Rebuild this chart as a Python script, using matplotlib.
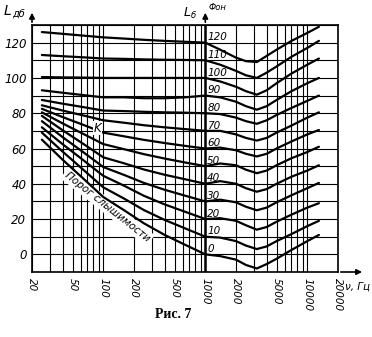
import matplotlib.pyplot as plt
from matplotlib.ticker import FixedLocator, LogLocator, NullFormatter

# Кривые равной громкости (уровень в дБ для каждой частоты)
freq = [25, 40, 63, 100, 160, 250, 400, 630, 1000, 1400, 2000, 2500, 3200, 4000, 5000, 7000, 10000, 13000]

p0 = [65, 53.6, 43.2, 32.5, 25, 17.6, 11, 5.5, 0, -1, -3, -6, -8, -5.5, -2.5, 2.5, 7.5, 11]
p10 = [69, 58.2, 48.2, 38, 31.6, 25.1, 19.5, 14.8, 10, 9.5, 7.5, 5, 3, 4.5, 7.5, 11.5, 16, 19]
p20 = [72, 62.4, 53.6, 44.5, 38.9, 33.2, 28.3, 24.2, 20, 20.5, 19, 16.5, 14, 15.5, 18.5, 22.5, 26.5, 29]
p30 = [75.5, 66.4, 58.1, 49.5, 45, 40.5, 36.6, 33.3, 30, 31, 29.5, 27, 25, 26.5, 29.5, 33.5, 37.5, 40.5]
p40 = [78.5, 70.3, 62.8, 55, 51.6, 48.1, 45.1, 42.6, 40, 41.5, 40, 37.5, 35.5, 37, 40, 44, 47.5, 50.5]
p50 = [80.5, 74.2, 68.4, 62.5, 59.6, 56.8, 54.3, 52.1, 50, 51.5, 50.5, 48, 46, 47.5, 50.5, 54.5, 58, 61]
p60 = [82.5, 77.8, 73.5, 69, 66.9, 64.9, 63.1, 61.5, 60, 60.5, 59, 57, 55.5, 57, 60, 64, 68, 70.5]
p70 = [84.5, 81.5, 78.8, 76, 74.6, 73.2, 72, 71, 70, 70, 68, 66, 64.5, 66, 69, 73, 77.5, 80.5]
p80 = [87.5, 85.4, 83.5, 81.5, 81.2, 80.8, 80.5, 80.3, 80, 79.5, 77.5, 75.5, 74, 76, 79, 83, 87, 90]
p90 = [93, 91.6, 90.3, 89, 89, 88.5, 88.5, 89, 90, 89, 86.5, 84, 82, 84, 87.5, 92.5, 97, 100]
p100 = [100.5, 100.3, 100.2, 100, 100, 100, 100, 100, 100, 98, 95, 92.5, 90.5, 93, 97, 102.5, 107.5, 111]
p110 = [113, 112.3, 111.7, 111, 110.8, 110.5, 110.3, 110.2, 110, 107.5, 104, 101.5, 100, 103, 106.5, 112, 117, 121]
p120 = [126, 125, 124, 123, 122.3, 121.6, 121, 120.5, 120, 116, 111.5, 109.5, 109, 112.5, 116, 121, 125.5, 129]

levels = [0, 10, 20, 30, 40, 50, 60, 70, 80, 90, 100, 110, 120]
curves = [p0, p10, p20, p30, p40, p50, p60, p70, p80, p90, p100, p110, p120]

x_ticks = [20, 50, 100, 200, 500, 1000, 2000, 5000, 10000, 20000]
x_labels = ['20', '50', '100', '200', '500', '1000', '2000', '5000', '10000', '20000']
y_labels = [0, 20, 40, 60, 80, 100, 120]

plt.rcParams['font.family'] = ['Liberation Sans Narrow', 'DejaVu Sans']

W, H = 372, 337
fig = plt.figure(figsize=(W / 100, H / 100), dpi=100)
ax = fig.add_axes([32 / W, 65 / H, 306 / W, 247 / H])
ax.set_xscale('log')
ax.set_xlim(20, 20000)
ax.set_ylim(-10, 130)

# сетка
ax.xaxis.set_major_locator(FixedLocator(x_ticks))
ax.set_xticklabels(x_labels, rotation=-90, fontsize=7.5, style='italic')
ax.xaxis.set_minor_locator(LogLocator(base=10, subs=range(1, 10), numticks=30))
ax.xaxis.set_minor_formatter(NullFormatter())
yt = list(range(-10, 131, 10))
ax.set_yticks(yt)
ax.set_yticklabels([str(v) if v in y_labels else '' for v in yt], fontsize=8.5, style='italic')
ax.tick_params(which='both', length=0)
ax.tick_params(axis='x', pad=4)
ax.tick_params(axis='y', pad=4)
ax.set_axisbelow(True)
ax.grid(which='both', color='k', lw=0.8)
for s in ax.spines.values():
    s.set_linewidth(1.2)

# ось L_б на 1000 Гц
ax.axvline(1000, color='k', lw=1.8, zorder=2)

for lv, c in zip(levels, curves):
    ax.plot(freq, c, color='k', lw=1.6, zorder=3, solid_capstyle='round')
    ax.text(1045, lv + 3, str(lv), fontsize=7.5, style='italic', ha='left', va='center', zorder=4)

ax.text(110, 27, 'Порог слышимости', rotation=-38.5, rotation_mode='anchor',
        ha='center', va='center', fontsize=7.5, style='italic', zorder=2.5,
        bbox=dict(facecolor='white', edgecolor='none', pad=1.5))
ax.text(88, 71.5, 'K', fontsize=8.5, style='italic', ha='center', va='center', zorder=4,
        bbox=dict(facecolor='white', edgecolor='none', pad=0.5))

# стрелки осей
arr = dict(arrowstyle='-|>', color='k', lw=1.2, mutation_scale=8)
ax.annotate('', xy=(0, 1.061), xytext=(0, 1), xycoords='axes fraction', arrowprops=arr, annotation_clip=False)
ax.annotate('', xy=(1.088, 0), xytext=(1, 0), xycoords='axes fraction', arrowprops=arr, annotation_clip=False)
ax.annotate('', xy=(1000, 1.061), xytext=(1000, 1), xycoords=('data', 'axes fraction'), arrowprops=arr,
            annotation_clip=False)

# подписи
fig.text(4 / W, 1 - 11 / H, 'L', fontsize=10, style='italic', va='center')
fig.text(12 / W, 1 - 14 / H, 'дб', fontsize=7, style='italic', va='center')
fig.text(184 / W, 1 - 12 / H, 'L', fontsize=9, style='italic', va='center')
fig.text(191 / W, 1 - 16 / H, 'б', fontsize=6, style='italic', va='center')
fig.text(209 / W, 1 - 7 / H, 'Фон', fontsize=6, style='italic', va='center')
fig.text(345 / W, 1 - 287 / H, 'ν, Гц', fontsize=7.5, style='italic', va='center')
fig.text(173 / W, 1 - 315 / H, 'Рис. 7', fontsize=10, fontweight='bold', family='Liberation Serif',
         ha='center', va='center')

fig.savefig('out.png', dpi=100)
